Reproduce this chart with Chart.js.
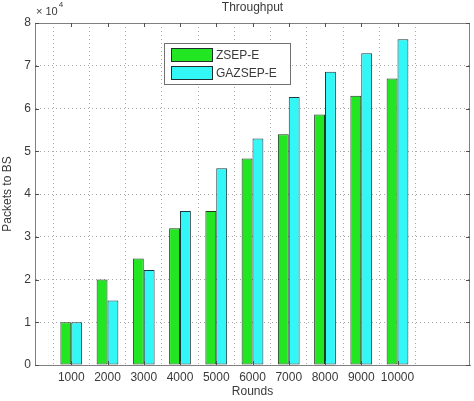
<!DOCTYPE html>
<html>
<head>
<meta charset="utf-8">
<script src="https://cdn.jsdelivr.net/npm/chart.js@4"></script>
<style>
html,body{margin:0;padding:0;background:#fff;}
canvas{display:block;}
</style>
</head>
<body>
<canvas id="c" width="474" height="401"></canvas>
<script>
const rounds = [1000, 2000, 3000, 4000, 5000, 6000, 7000, 8000, 9000, 10000];
const zsepE = [10000, 20000, 24900, 32000, 36000, 48300, 54000, 58600, 63000, 67000];
const gazsepE = [10000, 15100, 22200, 36000, 46000, 53000, 62700, 68600, 72900, 76200];
const yTicks = [0, 1, 2, 3, 4, 5, 6, 7, 8];
const seriesNames = ['ZSEP-E', 'GAZSEP-E'];
const titleText = 'Throughput';
const xTitle = 'Rounds';
const yTitle = 'Packets to BS';
const FONT = '"Liberation Sans", Arial, sans-serif';
const TXT = '#3a3a3a';

const decor = {
  id: 'decor',
  afterDraw(chart) {
    const ctx = chart.ctx, a = chart.chartArea;
    const xs = chart.scales.x, ys = chart.scales.y;
    ctx.save();
    // box
    ctx.strokeStyle = '#808080';
    ctx.lineWidth = 1;
    ctx.strokeRect(a.left + 0.5, a.top + 0.5, a.right - a.left - 1, a.bottom - a.top);
    // inward ticks
    ctx.strokeStyle = '#505050';
    ctx.beginPath();
    rounds.forEach(r => {
      const px = Math.round(xs.getPixelForValue(r)) + 0.5;
      ctx.moveTo(px, a.bottom); ctx.lineTo(px, a.bottom - 4);
      ctx.moveTo(px, a.top); ctx.lineTo(px, a.top + 4);
    });
    yTicks.forEach(t => {
      const py = Math.round(ys.getPixelForValue(t * 10000)) + 0.5;
      ctx.moveTo(a.left, py); ctx.lineTo(a.left + 4, py);
      ctx.moveTo(a.right, py); ctx.lineTo(a.right - 4, py);
    });
    ctx.stroke();
    // title
    ctx.fillStyle = TXT;
    ctx.font = '12px ' + FONT;
    ctx.textAlign = 'center';
    ctx.textBaseline = 'alphabetic';
    ctx.fillText(titleText, (a.left + a.right) / 2, 11);
    // exponent
    ctx.textAlign = 'left';
    ctx.font = '11px ' + FONT;
    ctx.fillText('\u00d7 10', a.left + 1, 15);
    const w = ctx.measureText('\u00d7 10').width;
    ctx.font = '8px ' + FONT;
    ctx.fillText('4', a.left + 2 + w, 7);
    // legend
    const lx = 164, ly = 43, lw = 126, lh = 41;
    ctx.fillStyle = '#ffffff';
    ctx.fillRect(lx, ly, lw, lh);
    ctx.strokeStyle = '#707070';
    ctx.strokeRect(lx + 0.5, ly + 0.5, lw, lh);
    chart.data.datasets.forEach((ds, i) => {
      const sy = 48.5 + i * 18;
      ctx.fillStyle = ds.backgroundColor;
      ctx.fillRect(171.5, sy, 41, 13);
      ctx.strokeStyle = '#203030';
      ctx.strokeRect(171.5, sy, 41, 13);
      ctx.fillStyle = TXT;
      ctx.font = '12px ' + FONT;
      ctx.textBaseline = 'middle';
      ctx.fillText(ds.label, 216, sy + 7);
    });
    ctx.restore();
  }
};

new Chart(document.getElementById('c'), {
  type: 'bar',
  data: {
    datasets: [
      {
        label: seriesNames[0],
        data: rounds.map((r, i) => ({x: r, y: zsepE[i]})),
        backgroundColor: '#22e622',
        borderColor: '#1c3a1c',
        borderWidth: 1,
        borderSkipped: false,
        categoryPercentage: 0.6,
        barPercentage: 1.0
      },
      {
        label: seriesNames[1],
        data: rounds.map((r, i) => ({x: r, y: gazsepE[i]})),
        backgroundColor: '#33f6f6',
        borderColor: '#1c3a40',
        borderWidth: 1,
        borderSkipped: false,
        categoryPercentage: 0.6,
        barPercentage: 1.0
      }
    ]
  },
  options: {
    responsive: false,
    animation: false,
    devicePixelRatio: 1,
    layout: {padding: {top: 23, right: 4, left: 0, bottom: 0}},
    plugins: {legend: {display: false}, title: {display: false}, tooltip: {enabled: false}},
    scales: {
      x: {
        type: 'linear',
        min: 0,
        max: 12000,
        offset: false,
        afterBuildTicks(s) { s.ticks = rounds.map(v => ({value: v})); },
        afterFit(s) { s.height = 36; },
        ticks: {
          autoSkip: false,
          maxRotation: 0,
          padding: 5,
          color: TXT,
          font: {family: FONT, size: 12},
          callback: v => String(v)
        },
        grid: {color: '#a8a8a8', lineWidth: 1, drawTicks: false},
        border: {display: true, color: '#808080', dash: [1, 3]},
        title: {display: true, text: xTitle, color: TXT, font: {family: FONT, size: 12}, padding: {top: 0, bottom: 2}}
      },
      y: {
        min: 0,
        max: 80000,
        afterBuildTicks(s) { s.ticks = yTicks.map(t => ({value: t * 10000})); },
        afterFit(s) { s.width = 35; },
        ticks: {
          padding: 4,
          color: TXT,
          font: {family: FONT, size: 12},
          callback: v => String(v / 10000)
        },
        grid: {color: '#a8a8a8', lineWidth: 1, drawTicks: false},
        border: {display: true, color: '#808080', dash: [1, 3]},
        title: {display: true, text: yTitle, color: TXT, font: {family: FONT, size: 12}, padding: {top: 0, bottom: 0}}
      }
    }
  },
  plugins: [decor]
});
</script>
</body>
</html>
